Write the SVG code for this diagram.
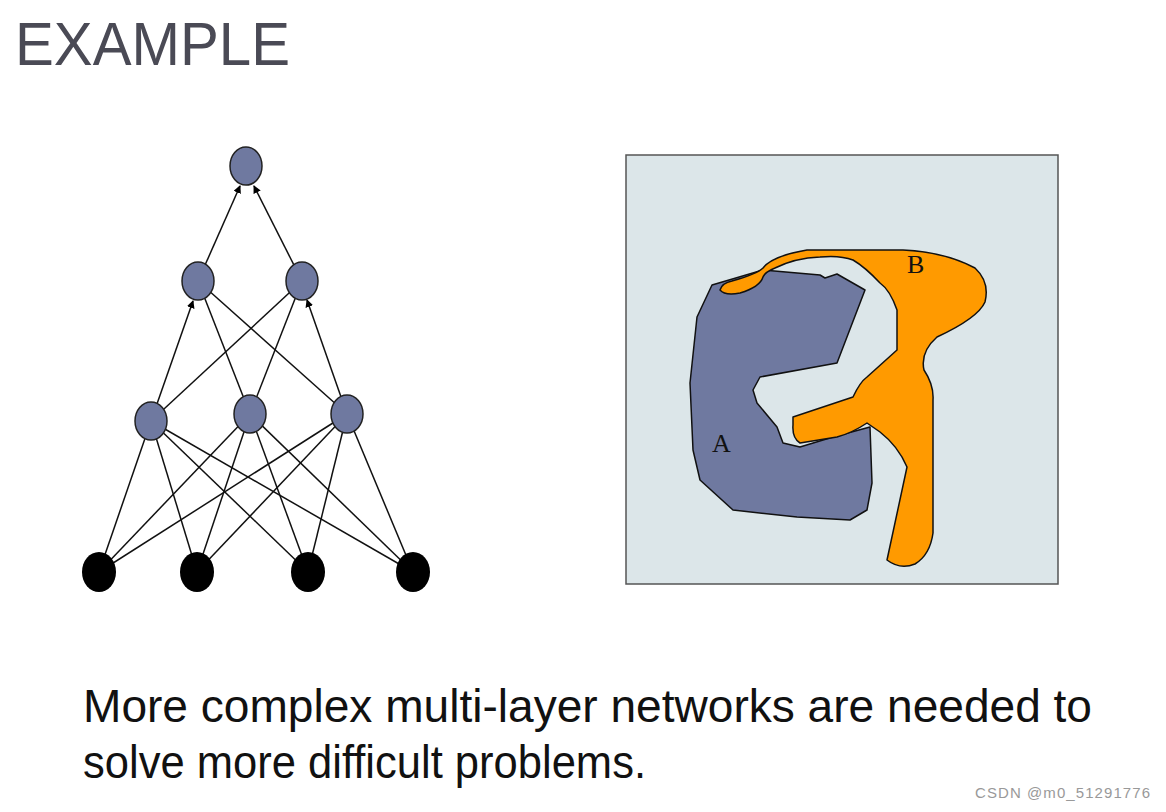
<svg xmlns="http://www.w3.org/2000/svg" width="1166" height="812" viewBox="0 0 1166 812">
<style>
.h{fill:#6f79a0;stroke:#222;stroke-width:1.5}
.i{fill:#000}
.e line{stroke:#111;stroke-width:1.5}
.t{font-family:"Liberation Sans",Arial,sans-serif}
</style>
<defs><marker id="a" markerWidth="8" markerHeight="8" refX="7" refY="4" orient="auto" markerUnits="userSpaceOnUse"><path d="M0,0 L8,4 L0,8z" fill="#000"/></marker></defs>
<rect width="1166" height="812" fill="#fff"/>
<text class="t" x="15" y="65" font-size="62" fill="#4a4a55" textLength="275" lengthAdjust="spacingAndGlyphs">EXAMPLE</text>
<g class="e" id="connectors">
<line x1="99" y1="572" x2="151" y2="421"/><line x1="99" y1="572" x2="250" y2="414"/><line x1="99" y1="572" x2="347" y2="414"/>
<line x1="197" y1="572" x2="151" y2="421"/><line x1="197" y1="572" x2="250" y2="414"/><line x1="197" y1="572" x2="347" y2="414"/>
<line x1="308" y1="572" x2="151" y2="421"/><line x1="308" y1="572" x2="250" y2="414"/><line x1="308" y1="572" x2="347" y2="414"/>
<line x1="413" y1="572" x2="151" y2="421"/><line x1="413" y1="572" x2="250" y2="414"/><line x1="413" y1="572" x2="347" y2="414"/>
<line x1="151" y1="421" x2="193" y2="301" marker-end="url(#a)"/><line x1="151" y1="421" x2="302" y2="281"/>
<line x1="250" y1="414" x2="198" y2="281"/><line x1="250" y1="414" x2="302" y2="281"/>
<line x1="347" y1="414" x2="198" y2="281"/><line x1="347" y1="414" x2="307" y2="300" marker-end="url(#a)"/>
<line x1="198" y1="281" x2="240" y2="186" marker-end="url(#a)"/><line x1="302" y1="281" x2="254" y2="186" marker-end="url(#a)"/>
</g>
<g id="n_top"><ellipse class="h" cx="246" cy="166" rx="16" ry="19"/></g>
<g id="n_h1"><ellipse class="h" cx="198" cy="281" rx="16" ry="19"/></g>
<g id="n_h2"><ellipse class="h" cx="302" cy="281" rx="16" ry="19"/></g>
<g id="n_m1"><ellipse class="h" cx="151" cy="421" rx="16" ry="19"/></g>
<g id="n_m2"><ellipse class="h" cx="250" cy="414" rx="16" ry="19"/></g>
<g id="n_m3"><ellipse class="h" cx="347" cy="414" rx="16" ry="19"/></g>
<g id="n_i1"><ellipse class="i" cx="99" cy="572" rx="17" ry="20"/></g>
<g id="n_i2"><ellipse class="i" cx="197" cy="572" rx="17" ry="20"/></g>
<g id="n_i3"><ellipse class="i" cx="308" cy="572" rx="17" ry="20"/></g>
<g id="n_i4"><ellipse class="i" cx="413" cy="572" rx="17" ry="20"/></g>
<g id="plot">
<rect x="626" y="155" width="432" height="429" fill="#dce6e9" stroke="#555" stroke-width="1.5"/>
<path d="M712,285 L763,270 L820,275 L825,278 L837,274 L865,290 L837,363 L760,377 L753,390 L757,403 L777,427 L783,443 L800,447 L833,437 L870,427 L872,483 L867,510 L850,520 L797,517 L733,510 L700,480 L693,450 L690,383 L697,317 Z" fill="#6f79a0" stroke="#111" stroke-width="1.5" stroke-linejoin="round"/>
<path d="M720,290 Q722,283 732,281 Q757,274 763,268 Q772,256 807,250 L903,250 Q945,252 975,268 Q990,282 985,302 Q978,318 937,337 Q920,352 924,370 Q934,385 933,400 L933,533 Q930,555 915,564 Q900,570 887,560 L907,467 Q898,446 880,432 L867,423 Q852,433 837,437 L800,443 Q792,438 793,425 L793,417 L853,397 Q860,382 867,377 L897,350 L897,310 Q890,290 880,283 Q865,267 853,260 Q840,255 820,257 Q795,258 775,268 Q765,272 763,277 Q760,287 740,293 Q725,296 720,290 Z" fill="#ff9a00" stroke="#111" stroke-width="1.5" stroke-linejoin="round"/>
<text x="712" y="452" font-family="Liberation Serif,serif" font-size="26" fill="#111">A</text>
<text x="907" y="273" font-family="Liberation Serif,serif" font-size="26" fill="#111">B</text>
</g>
<text class="t" x="83" y="722" font-size="46" fill="#111" textLength="1009" lengthAdjust="spacingAndGlyphs">More complex multi-layer networks are needed to</text>
<text class="t" x="83" y="778" font-size="46" fill="#111" textLength="563" lengthAdjust="spacingAndGlyphs">solve more difficult problems.</text>
<text class="t" x="975" y="798" font-size="15" fill="#999" textLength="175">CSDN @m0_51291776</text>
</svg>
